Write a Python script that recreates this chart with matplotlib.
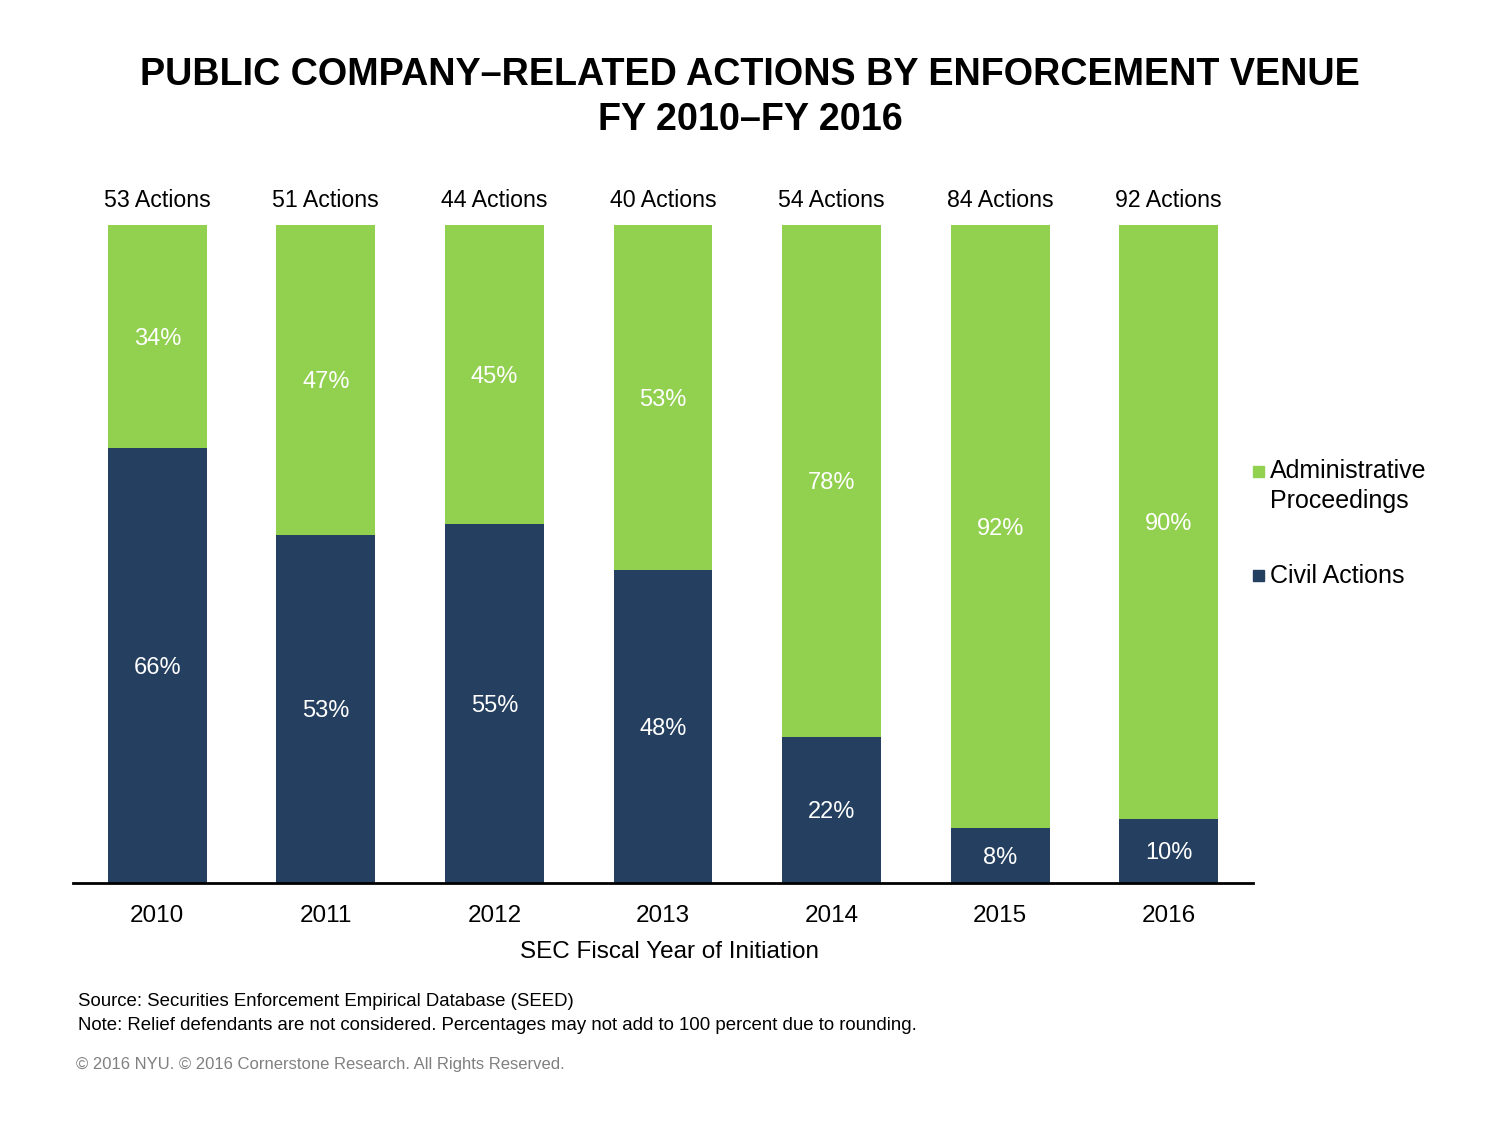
import matplotlib
matplotlib.use("Agg")
import matplotlib.pyplot as plt
from matplotlib.patches import Rectangle

plt.rcParams['font.family'] = ['Liberation Sans', 'DejaVu Sans']

years = ['2010', '2011', '2012', '2013', '2014', '2015', '2016']
total_actions = [53, 51, 44, 40, 54, 84, 92]
civil_counts = [35, 27, 24, 19, 12, 7, 9]
admin_counts = [18, 24, 20, 21, 42, 77, 83]
civil_labels = ['66%', '53%', '55%', '48%', '22%', '8%', '10%']
admin_labels = ['34%', '47%', '45%', '53%', '78%', '92%', '90%']

GREEN = '#92D050'
NAVY = '#243F5F'

W, H = 1500, 1125
fig = plt.figure(figsize=(15, 11.25), dpi=100)

def fx(px):
    return px / W

def fy(py):
    return 1 - py / H

ax = fig.add_axes([fx(73), fy(883), fx(1253) - fx(73), fy(225) - fy(883)])

x = list(range(len(years)))
civil_share = [c / t for c, t in zip(civil_counts, total_actions)]
admin_share = [a / t for a, t in zip(admin_counts, total_actions)]

ax.bar(x, civil_share, width=0.586, color=NAVY, linewidth=0)
ax.bar(x, admin_share, bottom=civil_share, width=0.586, color=GREEN, linewidth=0)

for i in x:
    ax.text(i, civil_share[i] / 2, civil_labels[i], color='white', fontsize=17,
            ha='center', va='center_baseline')
    ax.text(i, civil_share[i] + admin_share[i] / 2, admin_labels[i], color='white',
            fontsize=17, ha='center', va='center_baseline')
    ax.text(i, 1.027, f'{total_actions[i]} Actions', color='black', fontsize=16.7,
            ha='center', va='baseline')

ax.set_xlim(-0.5, 6.5)
ax.set_ylim(0, 1)
ax.set_xticks(x)
ax.set_xticklabels(years, fontsize=17.5)
ax.tick_params(axis='x', length=0, pad=16)
ax.set_yticks([])
for s in ['top', 'right', 'left']:
    ax.spines[s].set_visible(False)
ax.spines['bottom'].set_linewidth(2)
ax.spines['bottom'].set_color('black')

fig.text(fx(669), fy(950), 'SEC Fiscal Year of Initiation', fontsize=17.5,
         ha='center', va='center_baseline')

fig.text(fx(750), fy(71), 'PUBLIC COMPANY\u2013RELATED ACTIONS BY ENFORCEMENT VENUE',
         fontsize=27.2, fontweight='bold', ha='center', va='center_baseline')
fig.text(fx(750), fy(116), 'FY 2010\u2013FY 2016',
         fontsize=27.2, fontweight='bold', ha='center', va='center_baseline')

# legend
fig.add_artist(Rectangle((fx(1253), fy(477)), fx(11), fy(0) - fy(11), color=GREEN,
                         transform=fig.transFigure))
fig.add_artist(Rectangle((fx(1253), fy(581)), fx(11), fy(0) - fy(11), color=NAVY,
                         transform=fig.transFigure))
fig.text(fx(1270), fy(478), 'Administrative', fontsize=18, ha='left', va='baseline')
fig.text(fx(1270), fy(508), 'Proceedings', fontsize=18, ha='left', va='baseline')
fig.text(fx(1270), fy(583), 'Civil Actions', fontsize=18, ha='left', va='baseline')

fig.text(fx(78), fy(1000), 'Source: Securities Enforcement Empirical Database (SEED)',
         fontsize=13.4, ha='left', va='center_baseline')
fig.text(fx(78), fy(1023),
         'Note: Relief defendants are not considered. Percentages may not add to 100 percent due to rounding.',
         fontsize=13.4, ha='left', va='center_baseline')
fig.text(fx(76), fy(1063), '\u00a9 2016 NYU. \u00a9 2016 Cornerstone Research. All Rights Reserved.',
         fontsize=12, color='#808080', ha='left', va='center_baseline')

fig.savefig('out.png', dpi=100, facecolor='white')
